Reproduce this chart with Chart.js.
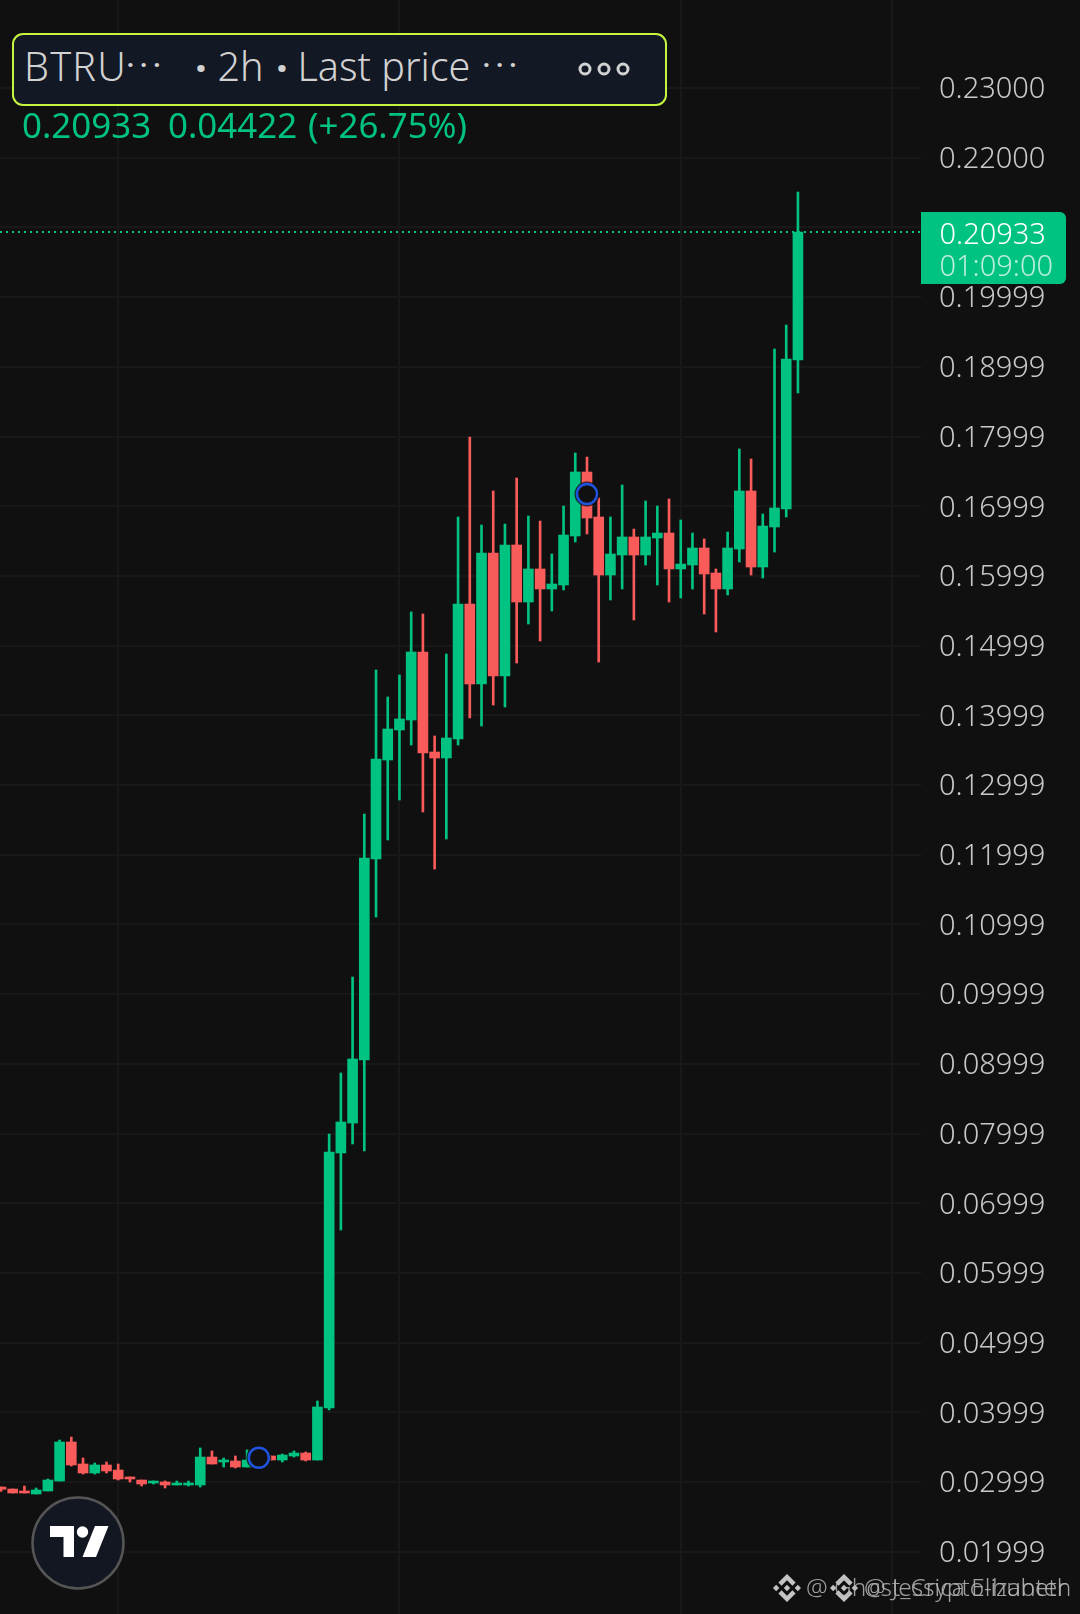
<!DOCTYPE html>
<html>
<head>
<meta charset="utf-8">
<script src="https://cdn.jsdelivr.net/npm/chart.js@4"></script>
<style>
html,body{margin:0;padding:0;background:#101010;width:1080px;height:1614px;overflow:hidden;font-family:"Noto Sans",sans-serif;}
#wrap{position:relative;width:1080px;height:1614px;}
canvas{position:absolute;left:0;top:0;}
.t{position:absolute;white-space:pre;line-height:1;}
#head{position:absolute;left:12px;top:33px;width:651px;height:69px;background:#121824;border:2px solid #c6f53f;border-radius:11px;}
#tag{position:absolute;left:921px;top:212px;width:145px;height:72px;background:#00c281;border-radius:0 6px 6px 0;}
.h{font-size:39.5px;color:#d2d2d2;font-weight:300;}
.dot{font-size:42px;color:#d2d2d2;font-weight:700;}
.mid{font-size:24px;letter-spacing:6.5px;color:#d2d2d2;font-weight:700;}
.ax{font-size:29px;font-weight:350;}
.wm{font-size:24.4px;color:#b8b8b8;opacity:.85;font-weight:300;}
.g{color:#00c281;font-weight:400;}
</style>
</head>
<body>
<div id="wrap">
<canvas id="c" width="1080" height="1614"></canvas>

<div id="head"></div>
<div class="t h" style="left:24px;top:47px;letter-spacing:1.2px">BTRU</div>
<div class="t mid" style="left:127px;top:52px">···</div>
<div class="t dot" style="left:195px;top:46px">·</div>
<div class="t h" style="left:217.5px;top:47px">2h</div>
<div class="t dot" style="left:276px;top:46px">·</div>
<div class="t h" style="left:297.5px;top:47px">Last price</div>
<div class="t mid" style="left:483px;top:52px">···</div>
<svg style="position:absolute;left:575px;top:59px" width="60" height="20">
  <g fill="none" stroke="#d2d2d2" stroke-width="3"><circle cx="10" cy="10" r="5"/><circle cx="29" cy="10" r="5"/><circle cx="48" cy="10" r="5"/></g>
</svg>
<div class="t g" style="left:22px;top:108px;font-size:34.9px">0.20933</div>
<div class="t g" style="left:168px;top:108px;font-size:34.9px">0.04422</div>
<div class="t g" style="left:308px;top:108px;font-size:34.9px">(+26.75%)</div>

<div id="tag"></div>
<div class="t ax" style="left:939.5px;top:218px;color:#fff">0.20933</div>
<div class="t ax" style="left:939.5px;top:250px;color:rgba(255,255,255,.72)">01:09:00</div>

<svg style="position:absolute;left:30px;top:1495px" width="96" height="96">
  <circle cx="48" cy="48" r="45.5" fill="#131722" stroke="#555" stroke-width="2.5"/>
  <polygon fill="#fff" points="20,31 44,31 44,62 33.5,62 33.5,42 20,42"/>
  <circle fill="#fff" cx="52.5" cy="37" r="5.7"/>
  <polygon fill="#fff" points="65,31 78.5,31 66,62 52.5,62"/>
</svg>

<svg style="position:absolute;left:773px;top:1574px" width="28" height="28" viewBox="6 6 20 20"><path fill="#c4c4c4" d="M12.116 14.404L16 10.52l3.886 3.886 2.26-2.26L16 6l-6.144 6.144zM6 16l2.26-2.26L10.52 16l-2.26 2.26zm6.116 1.596L16 21.48l3.886-3.886 2.26 2.259L16 26l-6.144-6.144-.003-.003zM21.48 16l2.26-2.26L26 16l-2.26 2.26zm-3.188-.002h.002V16L16 18.294l-2.291-2.29-.004-.004.004-.003.401-.402.195-.195L16 13.706z"/></svg>
<svg style="position:absolute;left:830px;top:1574px" width="28" height="28" viewBox="6 6 20 20"><path fill="#c4c4c4" d="M12.116 14.404L16 10.52l3.886 3.886 2.26-2.26L16 6l-6.144 6.144zM6 16l2.26-2.26L10.52 16l-2.26 2.26zm6.116 1.596L16 21.48l3.886-3.886 2.26 2.259L16 26l-6.144-6.144-.003-.003zM21.48 16l2.26-2.26L26 16l-2.26 2.26zm-3.188-.002h.002V16L16 18.294l-2.291-2.29-.004-.004.004-.003.401-.402.195-.195L16 13.706z"/></svg>
<div class="t wm" style="left:806px;top:1575px">@ Ghost_Crypto-hunter</div>
<div class="t wm" style="left:864px;top:1575px">@ Jessica Elizabeth</div>
</div>

<script>
const candleIndex = [0,1,2,3,4,5,6,7,8,9,10,11,12,13,14,15,16,17,18,19,20,21,22,23,24,25,26,27,28,29,30,31,32,33,34,35,36,37,38,39,40,41,42,43,44,45,46,47,48,49,50,51,52,53,54,55,56,57,58,59,60,61,62,63,64,65,66,67,68];
const opens = [.02928,.02899,.02871,.02828,.02871,.03014,.03574,.03258,.03129,.03244,.03172,.03072,.03028,.02985,.03000,.02957,.02957,.02957,.03358,.03287,.03301,.03215,.03301,.03373,.03315,.03373,.03416,.03315,.04061,.07720,.08150,.09054,.11938,.13358,.13789,.13932,.14908,.13473,.13387,.13660,.15596,.14449,.16328,.14563,.16443,.15625,.16099,.15812,.15869,.16572,.17490,.16845,.16012,.16299,.16558,.16299,.16543,.16615,.16099,.16156,.16400,.16041,.15812,.16385,.17218,.16127,.16701,.16959,.19097];
const closes = [.02895,.02842,.02842,.02885,.03028,.03574,.03244,.03129,.03244,.03158,.03043,.03043,.02971,.03014,.02957,.02985,.02985,.03358,.03258,.03315,.03215,.03315,.03358,.03315,.03387,.03416,.03315,.04076,.07734,.08165,.09069,.11952,.13373,.13803,.13947,.14908,.13459,.13387,.13674,.15596,.14449,.16328,.14563,.16443,.15625,.16099,.15812,.15883,.16586,.17490,.16830,.16012,.16314,.16558,.16299,.16558,.16615,.16099,.16170,.16400,.16027,.15812,.16400,.17218,.16127,.16715,.16974,.19111,.20933];
const highs = [.02928,.02899,.02942,.02914,.03043,.03602,.03645,.03344,.03272,.03287,.03258,.03072,.03028,.03014,.03014,.03014,.03014,.03488,.03445,.03344,.03373,.03459,.03401,.03373,.03401,.03445,.03430,.04162,.07993,.08868,.10245,.12584,.14650,.14262,.14578,.15482,.15453,.13703,.14879,.16845,.17992,.16730,.17218,.16744,.17404,.16859,.16787,.16314,.17002,.17763,.17705,.17117,.16845,.17304,.16672,.17074,.17002,.17103,.16802,.16615,.16529,.16099,.16629,.17820,.17677,.16888,.19255,.19599,.21507];
const lows = [.02866,.02842,.02842,.02828,.02871,.03014,.03229,.03114,.03114,.03129,.03028,.03000,.02942,.02971,.02914,.02957,.02942,.02928,.03258,.03215,.03201,.03215,.03287,.03315,.03287,.03358,.03301,.03315,.04033,.06615,.07849,.07749,.11106,.12211,.12784,.13573,.12612,.11794,.12225,.13573,.13961,.13846,.14147,.14119,.14750,.15309,.15066,.15496,.15797,.16486,.16601,.14764,.15654,.15812,.15367,.16156,.15869,.15625,.15683,.15812,.15453,.15195,.15726,.16199,.16012,.15969,.16342,.16845,.18624];
const tickValues = [.01999,.02999,.03999,.04999,.05999,.06999,.07999,.08999,.09999,.10999,.11999,.12999,.13999,.14999,.15999,.16999,.17999,.18999,.19999,.20999,.22,.23];
const tickLabels = ['0.01999','0.02999','0.03999','0.04999','0.05999','0.06999','0.07999','0.08999','0.09999','0.10999','0.11999','0.12999','0.13999','0.14999','0.15999','0.16999','0.17999','0.18999','0.19999','','0.22000','0.23000'];
const timeGridIndex = [10,34,58,76];
const lastPrice = [.20933,.20933];
const lastPriceX = [-0.085,78.5];
const markerIndex = [22,50];
const markerPrice = [.03348,.17175];

const UP = '#00c281', DOWN = '#f95a5a', BG = '#101010', GRID = '#181818';
const candleColors = opens.map((o,i)=> closes[i]>=o ? UP : DOWN);

const nudgeTickLabels = {
  id:'nudgeTickLabels',
  beforeDraw(chart){
    const s = chart.scales.y;
    s.getLabelItems(chart.chartArea).forEach(item=>{item.options.translation[1]+=2;});
  }
};

new Chart(document.getElementById('c'), {
  type:'bar',
  plugins:[nudgeTickLabels],
  data:{datasets:[
    {type:'scatter',order:0,data:markerIndex.map((x,i)=>({x,y:markerPrice[i]})),pointRadius:10,pointBorderWidth:2.4,pointBorderColor:'#1f54e0',pointBackgroundColor:BG},
    {type:'scatter',order:1,data:markerIndex.map((x,i)=>({x,y:markerPrice[i]})),pointRadius:12.5,pointBorderWidth:0,pointBackgroundColor:'rgba(16,16,16,.8)'},
    {order:2,grouped:false,barThickness:10,borderWidth:0,backgroundColor:candleColors,data:candleIndex.map((x,i)=>({x,y:[opens[i],closes[i]]}))},
    {order:3,grouped:false,barThickness:2,borderWidth:0,backgroundColor:candleColors,data:candleIndex.map((x,i)=>({x,y:[lows[i],highs[i]]}))},
    {type:'line',order:4,data:lastPriceX.map((x,i)=>({x,y:lastPrice[i]})),borderColor:UP,borderWidth:2,borderDash:[2,4],pointRadius:0}
  ]},
  options:{
    responsive:false,animation:false,devicePixelRatio:1,
    layout:{padding:0,autoPadding:false},
    plugins:{legend:{display:false},tooltip:{enabled:false}},
    scales:{
      x:{type:'linear',offset:false,min:lastPriceX[0],max:lastPriceX[1],
        afterBuildTicks:s=>{s.ticks=timeGridIndex.map(value=>({value}));},
        grid:{color:GRID,lineWidth:2,drawTicks:false,offset:false},border:{display:false},
        ticks:{display:false}},
      y:{type:'linear',position:'right',min:.01106,max:.24262,
        afterFit:s=>{s.width=159;s.paddingTop=0;s.paddingBottom=0;},
        afterBuildTicks:s=>{s.ticks=tickValues.map(value=>({value}));},
        grid:{color:GRID,lineWidth:2,drawTicks:false},border:{display:false},
        ticks:{autoSkip:false,padding:18,color:'#c8c8c8',font:{family:'"Noto Sans"',size:29,weight:'350'},
          callback:(v,i)=>tickLabels[i]}}
    }
  }
});
</script>
</body>
</html>
